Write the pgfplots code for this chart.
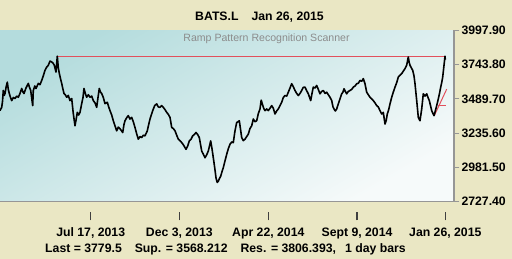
\documentclass[border=0pt]{standalone}
\usepackage{pgfplots}
\pgfplotsset{compat=1.18}
\usepackage{pgfplotstable}
\usepackage{fontspec}
\setmainfont{Liberation Sans}
\definecolor{cream}{RGB}{234,231,196}
\definecolor{tealA}{RGB}{180,220,221}
\definecolor{tealB}{RGB}{246,250,250}
\definecolor{resred}{RGB}{226,80,92}
\definecolor{axgray}{RGB}{150,150,150}
\definecolor{subgray}{RGB}{140,140,140}

\pgfplotstableread{
x y
0 3402.3
1.7 3426.9
2.5 3470.0
3.3 3551.7
4.2 3515.0
5 3529.3
6.2 3580.0
7.3 3613.8
8.3 3560.0
9.3 3529.3
10.5 3500.0
11.7 3477.0
13.3 3500.0
15 3492.0
16.7 3510.0
18.3 3501.7
20 3530.0
21.7 3566.7
23 3540.0
24 3529.3
26 3570.0
28.3 3604.0
29.5 3575.0
30.7 3551.7
32.7 3439.6
33.3 3551.7
34.8 3585.0
36 3566.7
38.3 3604.0
40 3595.0
41.7 3626.5
43.3 3660.0
45 3701.2
46.7 3725.0
48.3 3738.6
50 3770.0
51.7 3763.2
53 3755.0
54.3 3738.6
56 3688.5
57.3 3806.0
58.3 3720.0
59.3 3678.8
60.5 3640.0
61.7 3604.0
63 3560.0
64 3529.3
65.3 3520.0
66.7 3501.7
68.3 3515.0
70 3477.0
71.7 3492.0
73.3 3379.9
75 3290.2
76.2 3340.0
77.3 3389.6
78.7 3370.0
80 3389.6
81.7 3454.6
83 3500.0
84 3566.7
85.3 3530.0
86.7 3501.7
88.3 3520.0
90 3501.7
91.7 3510.0
93.3 3477.0
95 3460.0
96.7 3426.9
98 3500.0
99.3 3566.7
100.5 3540.0
101.7 3529.3
103.3 3500.0
105 3454.6
107.3 3464.3
108.7 3430.0
110 3402.3
111.7 3370.0
113.3 3327.5
115 3290.0
116.7 3252.8
118.3 3280.0
120 3267.7
121.3 3255.0
122.7 3240.1
124 3300.0
125 3327.5
126.7 3350.0
128.3 3364.9
130 3340.0
131.7 3352.2
133.3 3320.0
135 3277.5
136.7 3230.0
138.3 3190.8
140 3210.0
141.7 3202.8
143.3 3220.0
145 3215.5
147.3 3252.8
148.7 3300.0
150 3340.2
151.3 3370.0
152.7 3402.3
154.7 3440.0
156.7 3452.3
158.3 3430.0
160 3426.9
161.7 3440.0
163.3 3426.9
165 3410.0
166.7 3389.6
168.3 3375.0
170 3352.2
171.7 3277.5
173.3 3270.0
175 3252.8
176.7 3220.0
178.3 3190.8
180 3180.0
181.7 3165.4
183.3 3150.0
186 3116.0
187.7 3140.0
189.3 3178.1
191 3190.0
192.7 3215.5
194.3 3225.0
196 3240.1
197.7 3225.0
199.3 3202.8
201.7 3103.3
203.3 3080.0
205 3053.3
206.7 3075.0
208.3 3103.3
210.7 3178.1
212 3120.0
213.3 3053.3
214.7 2980.0
216 2903.8
217.2 2870.0
218.3 2879.1
219.5 2900.0
220.7 2916.5
222 2950.0
223.3 2980.0
225 3030.0
226.7 3078.7
228.3 3120.0
230 3153.4
231.7 3170.0
233.3 3165.4
235 3252.8
236.7 3314.8
238 3320.0
239.3 3327.5
241.7 3202.8
243.3 3180.0
245 3190.8
246.7 3210.0
248.3 3228.1
250 3270.0
251.7 3290.2
253.3 3340.2
255 3320.0
256.7 3327.5
258.3 3380.0
260 3415.0
261.2 3480.0
262.3 3452.3
263.7 3420.0
265 3402.3
266.7 3415.0
268.3 3402.3
270 3420.0
271.7 3439.6
273.3 3420.0
275 3377.6
276.7 3400.0
278.3 3415.0
280 3440.0
281.7 3464.3
283.3 3500.0
285 3514.4
286.7 3510.0
288.3 3539.0
290 3570.0
291.7 3601.8
293.3 3580.0
295 3551.7
296.7 3530.0
298.3 3514.4
300 3530.0
301.7 3551.7
303.3 3575.0
305 3576.4
306.7 3550.0
308.3 3527.1
310.7 3477.0
312 3530.0
313.3 3576.4
315 3570.0
316.7 3589.1
318.3 3560.0
320 3527.1
321.7 3545.0
323.3 3551.7
325 3530.0
326.7 3539.0
328.3 3520.0
330 3501.7
331.7 3477.0
333 3430.0
334 3415.0
335.3 3400.0
336.7 3415.0
338.3 3452.3
340 3490.0
341.7 3527.1
343 3540.0
344 3564.4
345.3 3545.0
346.7 3527.1
348.3 3545.0
350 3551.7
351.7 3560.0
353.3 3576.4
355 3585.0
356.7 3601.8
358.3 3605.0
360 3626.5
361.7 3620.0
363.3 3639.2
365 3601.8
366.7 3539.0
368.3 3520.0
370 3501.7
371.7 3490.0
373.3 3477.0
375 3460.0
376.7 3439.6
378.3 3430.0
380 3402.3
381.7 3377.6
383.3 3389.6
385 3302.9
386.2 3330.0
387.3 3377.6
388.7 3410.0
390 3452.3
391.7 3501.7
393.3 3540.0
395 3576.4
396.7 3610.0
398.3 3651.1
400 3665.0
401.7 3676.5
403.3 3695.0
405 3713.9
406.7 3740.0
408.3 3800.0
409.2 3760.0
410 3738.6
411.3 3720.0
412.7 3701.2
414 3660.0
415 3601.8
416.7 3477.0
418.3 3352.2
420 3327.5
421.7 3415.0
423.3 3527.1
425 3510.0
426.7 3527.1
428 3500.0
429.3 3477.0
430.5 3440.0
431.7 3402.3
433 3380.0
434 3364.9
435.3 3400.0
436.7 3439.6
438.3 3489.7
439.5 3530.0
440.7 3576.4
441.7 3610.0
442.7 3651.1
444 3738.6
445 3806.0
445.3 3779.5
}\price

\newcommand{\lblfont}{\bfseries\fontsize{12.3}{16}\selectfont}
\newcommand{\tk}{{\color{darkgray}\rule{1.2bp}{8.5bp}}}

\begin{document}
\begin{tikzpicture}
\fill[cream] (0,0) rectangle (512bp,259bp);
\begin{axis}[
  at={(0,57.3bp)}, anchor=south west,
  scale only axis, width=454.3bp, height=171.4bp,
  xmin=0, xmax=454.3, ymin=2727.4, ymax=3997.9,
  axis x line*=bottom, axis y line*=right,
  x axis line style={-, draw=axgray, line width=1bp},
  y axis line style={-, draw=axgray, line width=2bp},
  axis background/.style={top color=tealA, bottom color=tealB, shading angle=30},
  tick align=outside,
  major tick length=5bp,
  ytick={2727.4,2981.5,3235.6,3489.7,3743.8,3997.9},
  ytick style={draw=axgray, line width=1bp},
  yticklabel style={font=\lblfont, anchor=west, inner sep=0pt, xshift=2bp,
    /pgf/number format/fixed, /pgf/number format/fixed zerofill,
    /pgf/number format/precision=2, /pgf/number format/1000 sep={},
    /pgf/number format/assume math mode=true},
  xtick={90.7,179.3,268.3,357,445.3},
  xticklabels={{\tk\\Jul 17, 2013},{\tk\\Dec 3, 2013},{\tk\\Apr 22, 2014},{\tk\\Sept 9, 2014},{\tk\\Jan 26, 2015}},
  xtick style={draw=none},
  xticklabel style={font=\lblfont, align=center, anchor=north, inner sep=0pt, yshift=-5bp},
  clip=false,
]
\addplot[resred, line width=1bp] coordinates {(57.3,3806.393) (445,3806.393)};
\addplot[resred, line width=1bp] coordinates {(434.3,3364.9) (446.7,3562.0)};
\addplot[resred, line width=1bp] coordinates {(437.7,3439.6) (446,3439.6)};
\addplot[black, line width=1.6bp, line join=round] table[x=x, y=y] {\price};
\end{axis}
\node[anchor=base, font=\bfseries\fontsize{12.3}{14}\selectfont, inner sep=0pt] at (259.5bp,238.7bp) {BATS.L\hspace{13bp}Jan 26, 2015};
\node[anchor=center, text=subgray, font=\fontsize{10.6}{12}\selectfont, inner sep=0pt] at (266.5bp,220.5bp) {Ramp Pattern Recognition Scanner};
\node[anchor=base west, font=\lblfont, inner sep=0pt] at (45bp,6.7bp) {Last = 3779.5\hspace{13bp}Sup. = 3568.212\hspace{13bp}Res. = 3806.393,\hspace{9bp}1 day bars};
\pgfresetboundingbox
\path[use as bounding box] (0,0) rectangle (512bp,259bp);
\end{tikzpicture}
\end{document}
